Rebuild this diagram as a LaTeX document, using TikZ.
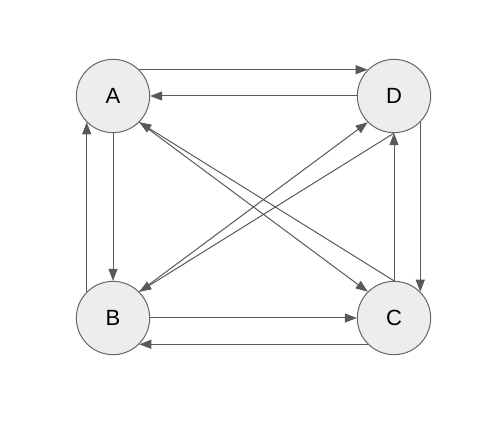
\documentclass[tikz,border=0pt]{standalone}
\usepackage{fontspec}
\setmainfont{Liberation Sans}
\usetikzlibrary{arrows.meta}

\begin{document}
\begin{tikzpicture}[x=0.75pt,y=-0.75pt]
	\tikzset{vertex/.style={
			circle,
			draw=black!60,
			fill=black!7,
			line width=0.75pt,
			minimum size=55pt,
			inner sep=0pt,
			font=\fontsize{16.5}{20}\selectfont},
		edge/.style={
			-{Triangle[length=9pt,width=6.75pt]},
			draw=black!65,
			line width=0.75pt}}
	\useasboundingbox (0,0) rectangle (493,427);
	
	%% VERTICES
	\node[vertex] (A) at (113,96) {A};
	\node[vertex] (D) at (394,96) {D};
	\node[vertex] (B) at (113,318) {B};
	\node[vertex] (C) at (394,318) {C};
	
	%% OUTER EDGES
	\draw[edge] (A.45) -- (D.135);
	\draw[edge] (D.west) -- (A.east);
	\draw[edge] (A.south) -- (B.north);
	\draw[edge] (B.135) -- (A.225);
	\draw[edge] (B.east) -- (C.west);
	\draw[edge] (C.225) -- (B.315);
	\draw[edge] (C.north) -- (D.south);
	\draw[edge] (D.315) -- (C.45);
	
	%% DIAGONALS
	\draw[edge] (A.315) -- (C.135);
	\draw[edge] (C.north) -- (A.315);
	\draw[edge] (B.45) -- (D.225);
	\draw[edge] (D.south) -- (B.45);
	
\end{tikzpicture}
\end{document}
